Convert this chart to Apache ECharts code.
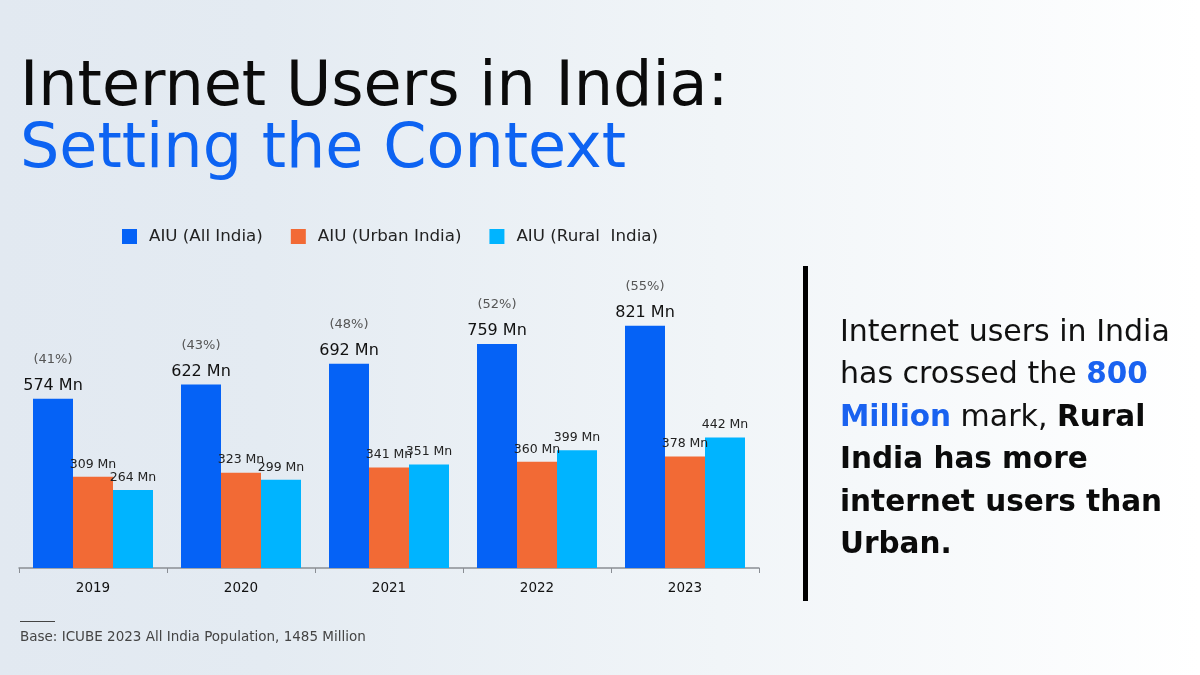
<!DOCTYPE html>
<html>
<head>
<meta charset="utf-8">
<script src="https://cdn.jsdelivr.net/npm/echarts@6/dist/echarts.min.js"></script>
<style>
html,body{margin:0;padding:0;width:1200px;height:675px;overflow:hidden;}
#main{width:1200px;height:675px;}
</style>
</head>
<body>
<div id="main"></div>
<script>
const years = ['2019', '2020', '2021', '2022', '2023'];
const allIndia = [574, 622, 692, 759, 821];
const urbanIndia = [309, 323, 341, 360, 378];
const ruralIndia = [264, 299, 351, 399, 442];
const penetration = ['41%', '43%', '48%', '52%', '55%'];
const seriesNames = ['AIU (All India)', 'AIU (Urban India)', 'AIU (Rural  India)'];

const FONT = '"DejaVu Sans", Inter, sans-serif';
const chart = echarts.init(document.getElementById('main'));

const smallLabel = {
  show: true, position: 'top', distance: 6,
  fontFamily: FONT, fontSize: 12.5, color: '#222',
  formatter: p => p.value + ' Mn'
};

chart.setOption({
  backgroundColor: {
    type: 'linear', x: 0, y: 0, x2: 1, y2: 0,
    colorStops: [
      { offset: 0, color: '#E2E9F1' },
      { offset: 0.22, color: '#E4EBF2' },
      { offset: 0.6, color: '#F1F5F8' },
      { offset: 1, color: '#FFFFFF' }
    ]
  },
  textStyle: { fontFamily: FONT },
  legend: {
    data: seriesNames,
    left: 117, top: 223,
    itemWidth: 15, itemHeight: 15, itemGap: 28,
    icon: 'rect',
    textStyle: { fontFamily: FONT, fontSize: 16.7, color: '#222', padding: [0, 0, 0, 7] }
  },
  grid: { left: 19, right: 441, top: 273, bottom: 107 },
  xAxis: {
    type: 'category', data: years,
    axisLine: { lineStyle: { color: '#8A8E94', width: 1.5 } },
    axisTick: { show: true, length: 5, lineStyle: { color: '#8A8E94' } },
    axisLabel: { fontFamily: FONT, fontSize: 13.5, color: '#111', margin: 13 }
  },
  yAxis: { type: 'value', min: 0, max: 1000, show: false, splitLine: { show: false } },
  series: [
    {
      name: seriesNames[0], type: 'bar', data: allIndia,
      barWidth: 40, barGap: '0%',
      itemStyle: { color: '#0562F6' },
      label: {
        show: true, position: 'top', distance: 5,
        formatter: p => '{p|(' + penetration[p.dataIndex] + ')}\n{v|' + p.value + ' Mn}',
        rich: {
          p: { fontFamily: FONT, fontSize: 13, color: '#555', lineHeight: 36 },
          v: { fontFamily: FONT, fontSize: 16, color: '#111', lineHeight: 16 }
        }
      }
    },
    {
      name: seriesNames[1], type: 'bar', data: urbanIndia,
      barWidth: 40, barGap: '0%',
      itemStyle: { color: '#F26A35' },
      label: smallLabel
    },
    {
      name: seriesNames[2], type: 'bar', data: ruralIndia,
      barWidth: 40, barGap: '0%',
      itemStyle: { color: '#00B4FF' },
      label: smallLabel
    }
  ],
  graphic: [
    {
      type: 'text', left: 20, top: 58,
      style: { text: 'Internet Users in India:', fontFamily: FONT, fontSize: 62, fill: '#0B0B0B' }
    },
    {
      type: 'text', left: 20, top: 120,
      style: { text: 'Setting the Context', fontFamily: FONT, fontSize: 62, fill: '#0D63F2' }
    },
    {
      type: 'rect', shape: { x: 803, y: 266, width: 5, height: 335 },
      style: { fill: '#000' }
    },
    {
      type: 'text', left: 840, top: 318,
      style: {
        text: '{n|Internet users in India}\n{n|has crossed the }{b|800}\n{b|Million}{n| mark, }{k|Rural}\n{k|India has more}\n{k|internet users than}\n{k|Urban.}',
        rich: {
          n: { fontFamily: FONT, fontSize: 30, fill: '#111', lineHeight: 42.5 },
          b: { fontFamily: FONT, fontSize: 29.5, fontWeight: 'bold', fill: '#1A62F0', lineHeight: 42.5 },
          k: { fontFamily: FONT, fontSize: 29.5, fontWeight: 'bold', fill: '#0B0B0B', lineHeight: 42.5 }
        }
      }
    },
    {
      type: 'rect', shape: { x: 20, y: 621, width: 35, height: 1 },
      style: { fill: '#444' }
    },
    {
      type: 'text', left: 20, top: 630,
      style: { text: 'Base: ICUBE 2023 All India Population, 1485 Million', fontFamily: FONT, fontSize: 13.5, fill: '#444' }
    }
  ]
});
</script>
</body>
</html>
